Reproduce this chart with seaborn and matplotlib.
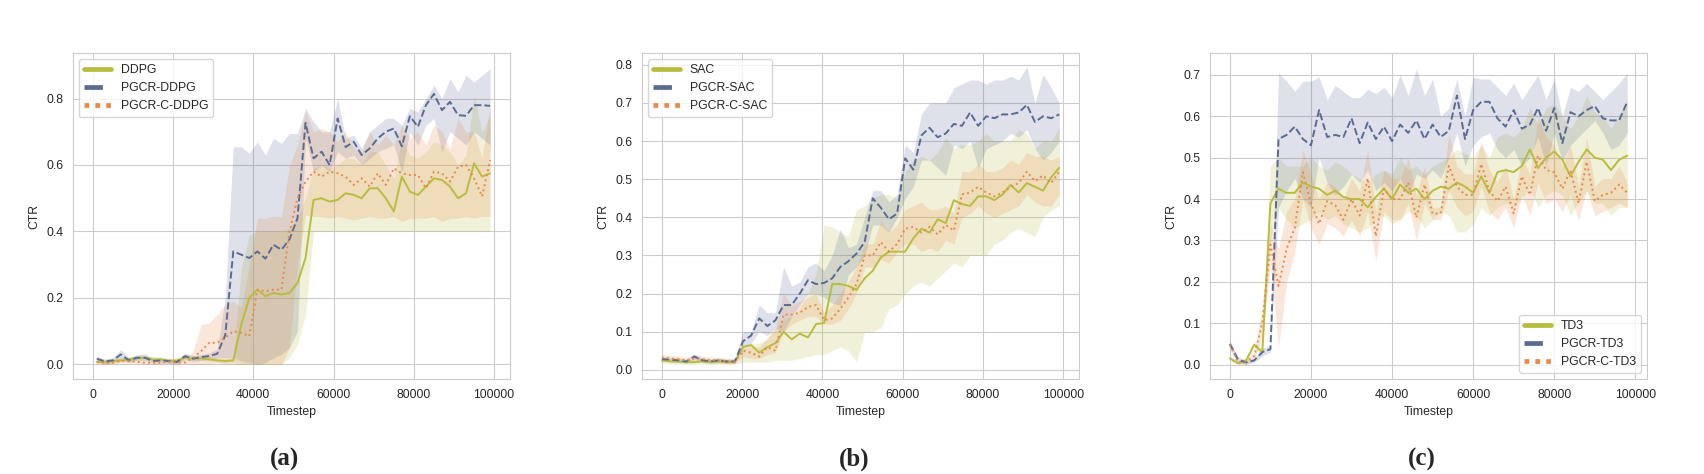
import numpy as np
import pandas as pd
import matplotlib
matplotlib.use("Agg")
import matplotlib.pyplot as plt
import seaborn as sns

# timesteps of the three runs
steps_a = np.arange(1000, 100000, 2000)
steps_b = np.linspace(0, 99000, 50)
steps_c = np.arange(0, 100000, 2000)

# (a) DDPG
ddpg_mean = [0.008, 0.007, 0.01, 0.012, 0.015, 0.02, 0.02, 0.015, 0.015, 0.01,
             0.012, 0.02, 0.018, 0.018, 0.015, 0.012, 0.01, 0.012, 0.12, 0.2,
             0.225, 0.205, 0.215, 0.21, 0.215, 0.245, 0.32, 0.495, 0.5, 0.49,
             0.495, 0.515, 0.51, 0.5, 0.53, 0.53, 0.5, 0.46, 0.565, 0.52,
             0.51, 0.535, 0.56, 0.555, 0.535, 0.5, 0.515, 0.605, 0.565, 0.575]
ddpg_lo = [0.002, 0.001, 0.004, 0.006, 0.009, 0.014, 0.014, 0.009, 0.009, 0.004,
           0.006, 0.014, 0.012, 0.012, 0.009, 0.006, 0.004, 0.006, 0.0, 0.0,
           0.0, 0.0, 0.0, 0.0, 0.02, 0.06, 0.15, 0.4, 0.4, 0.4,
           0.4, 0.4, 0.4, 0.4, 0.4, 0.4, 0.4, 0.4, 0.4, 0.4,
           0.4, 0.4, 0.4, 0.4, 0.4, 0.4, 0.4, 0.4, 0.4, 0.4]
ddpg_hi = [0.016, 0.015, 0.018, 0.02, 0.023, 0.028, 0.028, 0.023, 0.023, 0.018,
           0.02, 0.028, 0.026, 0.026, 0.023, 0.02, 0.018, 0.02, 0.29, 0.39,
           0.4, 0.4, 0.4, 0.4, 0.41, 0.44, 0.5, 0.59, 0.6, 0.59,
           0.6, 0.62, 0.62, 0.6, 0.64, 0.64, 0.6, 0.56, 0.68, 0.63,
           0.62, 0.64, 0.67, 0.66, 0.64, 0.6, 0.63, 0.81, 0.7, 0.75]
pgcr_ddpg_mean = [0.017, 0.009, 0.012, 0.03, 0.012, 0.02, 0.02, 0.01, 0.012, 0.01,
                  0.007, 0.025, 0.017, 0.022, 0.025, 0.032, 0.088, 0.34, 0.33, 0.32,
                  0.34, 0.318, 0.36, 0.345, 0.376, 0.44, 0.727, 0.62, 0.64, 0.6,
                  0.74, 0.654, 0.67, 0.63, 0.65, 0.68, 0.7, 0.71, 0.656, 0.747,
                  0.715, 0.78, 0.814, 0.765, 0.79, 0.75, 0.748, 0.78, 0.78, 0.778]
pgcr_ddpg_lo = [0.009, 0.002, 0.004, 0.018, 0.004, 0.012, 0.012, 0.003, 0.004, 0.003,
                0.0, 0.015, 0.008, 0.012, 0.015, 0.02, 0.02, 0.02, 0.01, 0.005,
                0.0, 0.005, 0.02, 0.03, 0.05, 0.1, 0.68, 0.58, 0.6, 0.58,
                0.64, 0.62, 0.63, 0.6, 0.62, 0.64, 0.65, 0.66, 0.58, 0.7,
                0.66, 0.72, 0.74, 0.64, 0.7, 0.68, 0.66, 0.7, 0.68, 0.66]
pgcr_ddpg_hi = [0.025, 0.016, 0.02, 0.045, 0.02, 0.028, 0.032, 0.018, 0.02, 0.017,
                0.014, 0.035, 0.025, 0.03, 0.035, 0.045, 0.2, 0.655, 0.655, 0.635,
                0.67, 0.63, 0.68, 0.665, 0.695, 0.695, 0.77, 0.73, 0.7, 0.7,
                0.8, 0.68, 0.69, 0.65, 0.7, 0.72, 0.74, 0.74, 0.72, 0.77,
                0.76, 0.8, 0.84, 0.8, 0.86, 0.82, 0.87, 0.85, 0.87, 0.89]
pgcrc_ddpg_mean = [0.007, 0.004, 0.005, 0.01, 0.01, 0.008, 0.005, 0.005, 0.005, 0.008,
                   0.005, 0.006, 0.02, 0.04, 0.065, 0.065, 0.08, 0.1, 0.095, 0.085,
                   0.225, 0.22, 0.225, 0.225, 0.4, 0.5, 0.55, 0.58, 0.565, 0.58,
                   0.575, 0.565, 0.54, 0.56, 0.535, 0.575, 0.54, 0.59, 0.575, 0.57,
                   0.57, 0.53, 0.58, 0.575, 0.55, 0.595, 0.6, 0.56, 0.505, 0.615]
pgcrc_ddpg_lo = [0.002, 0.0, 0.0, 0.005, 0.005, 0.003, 0.0, 0.0, 0.0, 0.003,
                 0.0, 0.001, 0.0, 0.0, 0.0, 0.005, 0.0, 0.0, 0.0, 0.0,
                 0.0, 0.0, 0.0, 0.0, 0.05, 0.3, 0.45, 0.445, 0.445, 0.44,
                 0.445, 0.44, 0.435, 0.44, 0.445, 0.44, 0.44, 0.445, 0.43, 0.44,
                 0.44, 0.44, 0.445, 0.43, 0.44, 0.44, 0.445, 0.44, 0.445, 0.445]
pgcrc_ddpg_hi = [0.017, 0.014, 0.015, 0.02, 0.02, 0.018, 0.015, 0.015, 0.015, 0.018,
                 0.015, 0.016, 0.04, 0.12, 0.125, 0.15, 0.18, 0.19, 0.17, 0.3,
                 0.44, 0.44, 0.445, 0.445, 0.6, 0.66, 0.76, 0.7, 0.71, 0.7,
                 0.67, 0.7, 0.65, 0.64, 0.7, 0.66, 0.69, 0.66, 0.72, 0.68,
                 0.7, 0.66, 0.72, 0.7, 0.65, 0.74, 0.7, 0.7, 0.62, 0.78]

# (b) SAC
sac_mean = [0.025, 0.022, 0.022, 0.02, 0.02, 0.022, 0.02, 0.022, 0.02, 0.022,
            0.06, 0.065, 0.045, 0.06, 0.07, 0.1, 0.08, 0.095, 0.085, 0.12,
            0.123, 0.225, 0.225, 0.22, 0.21, 0.24, 0.26, 0.295, 0.31, 0.31,
            0.31, 0.345, 0.37, 0.36, 0.395, 0.385, 0.445, 0.435, 0.43, 0.455,
            0.455, 0.445, 0.46, 0.485, 0.465, 0.49, 0.48, 0.47, 0.505, 0.53]
sac_lo = [0.018, 0.015, 0.015, 0.014, 0.014, 0.015, 0.014, 0.015, 0.014, 0.015,
          0.02, 0.02, 0.02, 0.02, 0.025, 0.025, 0.025, 0.03, 0.035, 0.04,
          0.04, 0.05, 0.06, 0.05, 0.02, 0.1, 0.1, 0.11, 0.16, 0.17,
          0.2, 0.22, 0.23, 0.22, 0.24, 0.26, 0.28, 0.27, 0.3, 0.3,
          0.3, 0.33, 0.34, 0.36, 0.37, 0.36, 0.35, 0.4, 0.42, 0.43]
sac_hi = [0.032, 0.03, 0.03, 0.027, 0.027, 0.03, 0.027, 0.03, 0.027, 0.03,
          0.065, 0.07, 0.07, 0.08, 0.11, 0.13, 0.14, 0.16, 0.2, 0.25,
          0.38, 0.375, 0.36, 0.35, 0.42, 0.43, 0.45, 0.46, 0.46, 0.45,
          0.52, 0.55, 0.56, 0.55, 0.57, 0.61, 0.58, 0.59, 0.59, 0.6,
          0.62, 0.6, 0.6, 0.6, 0.63, 0.62, 0.58, 0.6, 0.6, 0.635]
pgcr_sac_mean = [0.028, 0.027, 0.025, 0.022, 0.035, 0.025, 0.022, 0.025, 0.022, 0.022,
                 0.075, 0.09, 0.135, 0.115, 0.13, 0.17, 0.17, 0.2, 0.235, 0.225,
                 0.228, 0.24, 0.27, 0.285, 0.305, 0.335, 0.45, 0.425, 0.395, 0.41,
                 0.555, 0.525, 0.615, 0.635, 0.61, 0.62, 0.645, 0.64, 0.675, 0.64,
                 0.665, 0.66, 0.67, 0.67, 0.675, 0.695, 0.65, 0.665, 0.66, 0.67]
pgcr_sac_lo = [0.022, 0.021, 0.019, 0.017, 0.028, 0.019, 0.017, 0.019, 0.017, 0.017,
               0.06, 0.07, 0.1, 0.09, 0.11, 0.1, 0.14, 0.17, 0.2, 0.2,
               0.19, 0.175, 0.17, 0.25, 0.27, 0.3, 0.38, 0.38, 0.36, 0.4,
               0.45, 0.48, 0.55, 0.55, 0.53, 0.51, 0.59, 0.58, 0.6, 0.53,
               0.58, 0.59, 0.6, 0.62, 0.61, 0.63, 0.58, 0.55, 0.57, 0.6]
pgcr_sac_hi = [0.034, 0.033, 0.031, 0.028, 0.042, 0.031, 0.028, 0.031, 0.028, 0.028,
               0.1, 0.1, 0.17, 0.15, 0.15, 0.27, 0.22, 0.23, 0.27, 0.28,
               0.26, 0.3, 0.37, 0.32, 0.33, 0.4, 0.47, 0.47, 0.44, 0.46,
               0.59, 0.57, 0.67, 0.7, 0.7, 0.7, 0.74, 0.75, 0.76, 0.76,
               0.75, 0.76, 0.76, 0.77, 0.76, 0.795, 0.7, 0.775, 0.74, 0.7]
pgcrc_sac_mean = [0.032, 0.03, 0.028, 0.025, 0.03, 0.028, 0.025, 0.025, 0.022, 0.022,
                  0.05, 0.045, 0.035, 0.06, 0.05, 0.145, 0.145, 0.15, 0.165, 0.17,
                  0.13, 0.135, 0.16, 0.19, 0.225, 0.3, 0.3, 0.335, 0.31, 0.33,
                  0.37, 0.375, 0.36, 0.375, 0.355, 0.38, 0.365, 0.46, 0.465, 0.48,
                  0.465, 0.455, 0.465, 0.48, 0.49, 0.52, 0.495, 0.51, 0.49, 0.52]
pgcrc_sac_lo = [0.025, 0.023, 0.021, 0.018, 0.023, 0.021, 0.018, 0.018, 0.016, 0.016,
                0.035, 0.03, 0.03, 0.04, 0.045, 0.1, 0.12, 0.13, 0.14, 0.14,
                0.12, 0.12, 0.13, 0.16, 0.2, 0.27, 0.27, 0.29, 0.28, 0.31,
                0.33, 0.33, 0.31, 0.32, 0.31, 0.34, 0.33, 0.4, 0.41, 0.43,
                0.41, 0.4, 0.41, 0.42, 0.43, 0.46, 0.44, 0.43, 0.43, 0.46]
pgcrc_sac_hi = [0.04, 0.038, 0.036, 0.033, 0.038, 0.036, 0.033, 0.033, 0.03, 0.03,
                0.06, 0.06, 0.06, 0.085, 0.11, 0.2, 0.17, 0.18, 0.19, 0.2,
                0.15, 0.17, 0.2, 0.23, 0.27, 0.33, 0.33, 0.39, 0.36, 0.38,
                0.42, 0.43, 0.44, 0.42, 0.42, 0.43, 0.41, 0.52, 0.52, 0.54,
                0.52, 0.52, 0.53, 0.55, 0.54, 0.57, 0.56, 0.56, 0.55, 0.56]

# (c) TD3
td3_mean = [0.015, 0.003, 0.01, 0.048, 0.03, 0.39, 0.425, 0.415, 0.415, 0.44,
            0.43, 0.425, 0.41, 0.42, 0.405, 0.4, 0.4, 0.38, 0.405, 0.425,
            0.4, 0.435, 0.415, 0.425, 0.4, 0.42, 0.43, 0.425, 0.44, 0.43,
            0.415, 0.455, 0.415, 0.465, 0.47, 0.465, 0.48, 0.52, 0.475, 0.5,
            0.515, 0.495, 0.455, 0.49, 0.52, 0.5, 0.495, 0.47, 0.495, 0.505]
td3_lo = [0.01, 0.0, 0.005, 0.04, 0.02, 0.3, 0.38, 0.35, 0.33, 0.34,
          0.35, 0.37, 0.35, 0.36, 0.34, 0.33, 0.32, 0.33, 0.35, 0.36,
          0.34, 0.35, 0.37, 0.36, 0.33, 0.35, 0.37, 0.36, 0.32, 0.32,
          0.34, 0.38, 0.36, 0.38, 0.39, 0.38, 0.4, 0.43, 0.38, 0.41,
          0.42, 0.41, 0.36, 0.39, 0.42, 0.39, 0.39, 0.36, 0.38, 0.38]
td3_hi = [0.02, 0.008, 0.015, 0.055, 0.04, 0.48, 0.5, 0.48, 0.48, 0.48,
          0.5, 0.48, 0.47, 0.49, 0.48, 0.46, 0.45, 0.44, 0.46, 0.47,
          0.46, 0.5, 0.47, 0.48, 0.46, 0.48, 0.49, 0.5, 0.52, 0.51,
          0.5, 0.53, 0.5, 0.55, 0.56, 0.55, 0.57, 0.62, 0.58, 0.62,
          0.63, 0.6, 0.57, 0.6, 0.65, 0.61, 0.6, 0.57, 0.6, 0.64]
pgcr_td3_mean = [0.05, 0.012, 0.005, 0.01, 0.03, 0.037, 0.545, 0.555, 0.575, 0.545,
                 0.53, 0.615, 0.55, 0.555, 0.55, 0.595, 0.535, 0.585, 0.545, 0.575,
                 0.54, 0.58, 0.56, 0.59, 0.545, 0.58, 0.55, 0.565, 0.65, 0.545,
                 0.615, 0.635, 0.635, 0.595, 0.575, 0.615, 0.57, 0.58, 0.62, 0.565,
                 0.62, 0.535, 0.61, 0.6, 0.615, 0.625, 0.595, 0.59, 0.59, 0.635]
pgcr_td3_lo = [0.04, 0.005, 0.0, 0.005, 0.02, 0.03, 0.38, 0.42, 0.45, 0.4,
               0.38, 0.5, 0.44, 0.41, 0.43, 0.46, 0.44, 0.47, 0.42, 0.44,
               0.42, 0.45, 0.41, 0.46, 0.45, 0.47, 0.45, 0.5, 0.56, 0.48,
               0.53, 0.55, 0.56, 0.52, 0.5, 0.52, 0.48, 0.5, 0.55, 0.48,
               0.56, 0.49, 0.53, 0.55, 0.57, 0.59, 0.56, 0.52, 0.53, 0.56]
pgcr_td3_hi = [0.055, 0.02, 0.01, 0.015, 0.04, 0.045, 0.705, 0.685, 0.66, 0.685,
               0.685, 0.695, 0.64, 0.675, 0.66, 0.645, 0.645, 0.665, 0.655, 0.67,
               0.645, 0.7, 0.65, 0.715, 0.65, 0.69, 0.6, 0.62, 0.69, 0.6,
               0.695, 0.69, 0.69, 0.67, 0.65, 0.68, 0.64, 0.67, 0.7, 0.64,
               0.69, 0.6, 0.67, 0.66, 0.68, 0.66, 0.64, 0.66, 0.68, 0.705]
pgcrc_td3_mean = [0.048, 0.005, 0.008, 0.02, 0.1, 0.29, 0.19, 0.28, 0.33, 0.465,
                  0.39, 0.34, 0.395, 0.385, 0.35, 0.4, 0.36, 0.45, 0.31, 0.425,
                  0.4, 0.4, 0.44, 0.355, 0.435, 0.365, 0.365, 0.48, 0.43, 0.41,
                  0.41, 0.485, 0.42, 0.395, 0.43, 0.365, 0.455, 0.41, 0.505, 0.47,
                  0.465, 0.425, 0.47, 0.39, 0.49, 0.395, 0.41, 0.415, 0.435, 0.415]
pgcrc_td3_lo = [0.045, 0.0, 0.0, 0.01, 0.07, 0.24, 0.04, 0.2, 0.27, 0.4,
                0.33, 0.29, 0.34, 0.33, 0.31, 0.35, 0.31, 0.37, 0.25, 0.37,
                0.35, 0.35, 0.39, 0.3, 0.39, 0.35, 0.35, 0.42, 0.38, 0.36,
                0.37, 0.43, 0.37, 0.35, 0.38, 0.33, 0.41, 0.36, 0.44, 0.39,
                0.4, 0.37, 0.41, 0.35, 0.42, 0.36, 0.37, 0.38, 0.39, 0.38]
pgcrc_td3_hi = [0.05, 0.01, 0.01, 0.03, 0.14, 0.34, 0.28, 0.37, 0.4, 0.52,
                0.46, 0.4, 0.44, 0.43, 0.4, 0.45, 0.42, 0.52, 0.37, 0.47,
                0.45, 0.45, 0.5, 0.41, 0.48, 0.38, 0.38, 0.56, 0.48, 0.46,
                0.46, 0.54, 0.47, 0.44, 0.48, 0.4, 0.5, 0.46, 0.6, 0.55,
                0.53, 0.48, 0.53, 0.43, 0.55, 0.43, 0.45, 0.45, 0.48, 0.44]

colors = ["#b8bd3e", "#5b6a93", "#e8894a"]
dash_styles = ["", (3.7, 1.6), (1, 1.65)]
# thicker handles in the legend: one long dash, three square dots
legend_dashes = [None, (3.9, 2.2), (1, 1.3)]

sns.set_style("whitegrid")
plt.rcParams["font.family"] = ["Liberation Sans", "DejaVu Sans"]
plt.rcParams["font.size"] = 8.8


def draw_panel(ax, steps, names, means, los, his, legend_loc):
    df = pd.DataFrame({
        "Timestep": np.tile(steps, 3),
        "CTR": np.concatenate(means),
        "method": np.repeat(names, len(steps)),
    })
    # shaded spread of each run
    for lo, hi, c in zip(los, his, colors):
        ax.fill_between(steps, lo, hi, color=c, alpha=0.2, linewidth=0)
    sns.lineplot(data=df, x="Timestep", y="CTR", hue="method", style="method",
                 palette=dict(zip(names, colors)),
                 dashes=dict(zip(names, dash_styles)),
                 linewidth=1.4, errorbar=None, ax=ax)
    old = ax.get_legend()
    handles = old.legend_handles
    labels = [t.get_text() for t in old.get_texts()]
    leg = ax.legend(handles, labels, loc=legend_loc, fontsize=8.8,
                    handlelength=2.2, frameon=True)
    for line, d in zip(leg.get_lines(), legend_dashes):
        line.set_linewidth(3.4)
        if d is not None:
            line.set_dashes(d)
    ax.set_xlabel("Timestep", fontsize=8.8, color=".15")
    ax.set_ylabel("CTR", fontsize=8.8, color=".15")
    ax.tick_params(labelsize=8.8, colors=".15")


fig = plt.figure(figsize=(17.04, 4.74), dpi=100)
ax_a = fig.add_axes([0.0428, 0.2004, 0.2565, 0.6878])
ax_b = fig.add_axes([0.3768, 0.2004, 0.2565, 0.6878])
ax_c = fig.add_axes([0.7101, 0.2004, 0.2565, 0.6878])

draw_panel(ax_a, steps_a, ["DDPG", "PGCR-DDPG", "PGCR-C-DDPG"],
           [ddpg_mean, pgcr_ddpg_mean, pgcrc_ddpg_mean],
           [ddpg_lo, pgcr_ddpg_lo, pgcrc_ddpg_lo],
           [ddpg_hi, pgcr_ddpg_hi, pgcrc_ddpg_hi], "upper left")
ax_a.set_xlim(-4950, 103950)
ax_a.set_ylim(-0.044, 0.937)
ax_a.set_yticks([0.0, 0.2, 0.4, 0.6, 0.8])

draw_panel(ax_b, steps_b, ["SAC", "PGCR-SAC", "PGCR-C-SAC"],
           [sac_mean, pgcr_sac_mean, pgcrc_sac_mean],
           [sac_lo, pgcr_sac_lo, pgcrc_sac_lo],
           [sac_hi, pgcr_sac_hi, pgcrc_sac_hi], "upper left")
ax_b.set_xlim(-4950, 103950)
ax_b.set_ylim(-0.024, 0.831)

draw_panel(ax_c, steps_c, ["TD3", "PGCR-TD3", "PGCR-C-TD3"],
           [td3_mean, pgcr_td3_mean, pgcrc_td3_mean],
           [td3_lo, pgcr_td3_lo, pgcrc_td3_lo],
           [td3_hi, pgcr_td3_hi, pgcrc_td3_hi], "lower right")
ax_c.set_xlim(-4900, 102900)
ax_c.set_ylim(-0.035, 0.753)

for ax, lab in zip([ax_a, ax_b, ax_c], ["(a)", "(b)", "(c)"]):
    pos = ax.get_position()
    fig.text(pos.x0 + pos.width / 2 - 0.004, 0.03, lab, ha="center", va="center",
             fontsize=18, fontweight="bold", family=["Liberation Serif", "DejaVu Serif"])

fig.savefig("out.png", dpi=100)
